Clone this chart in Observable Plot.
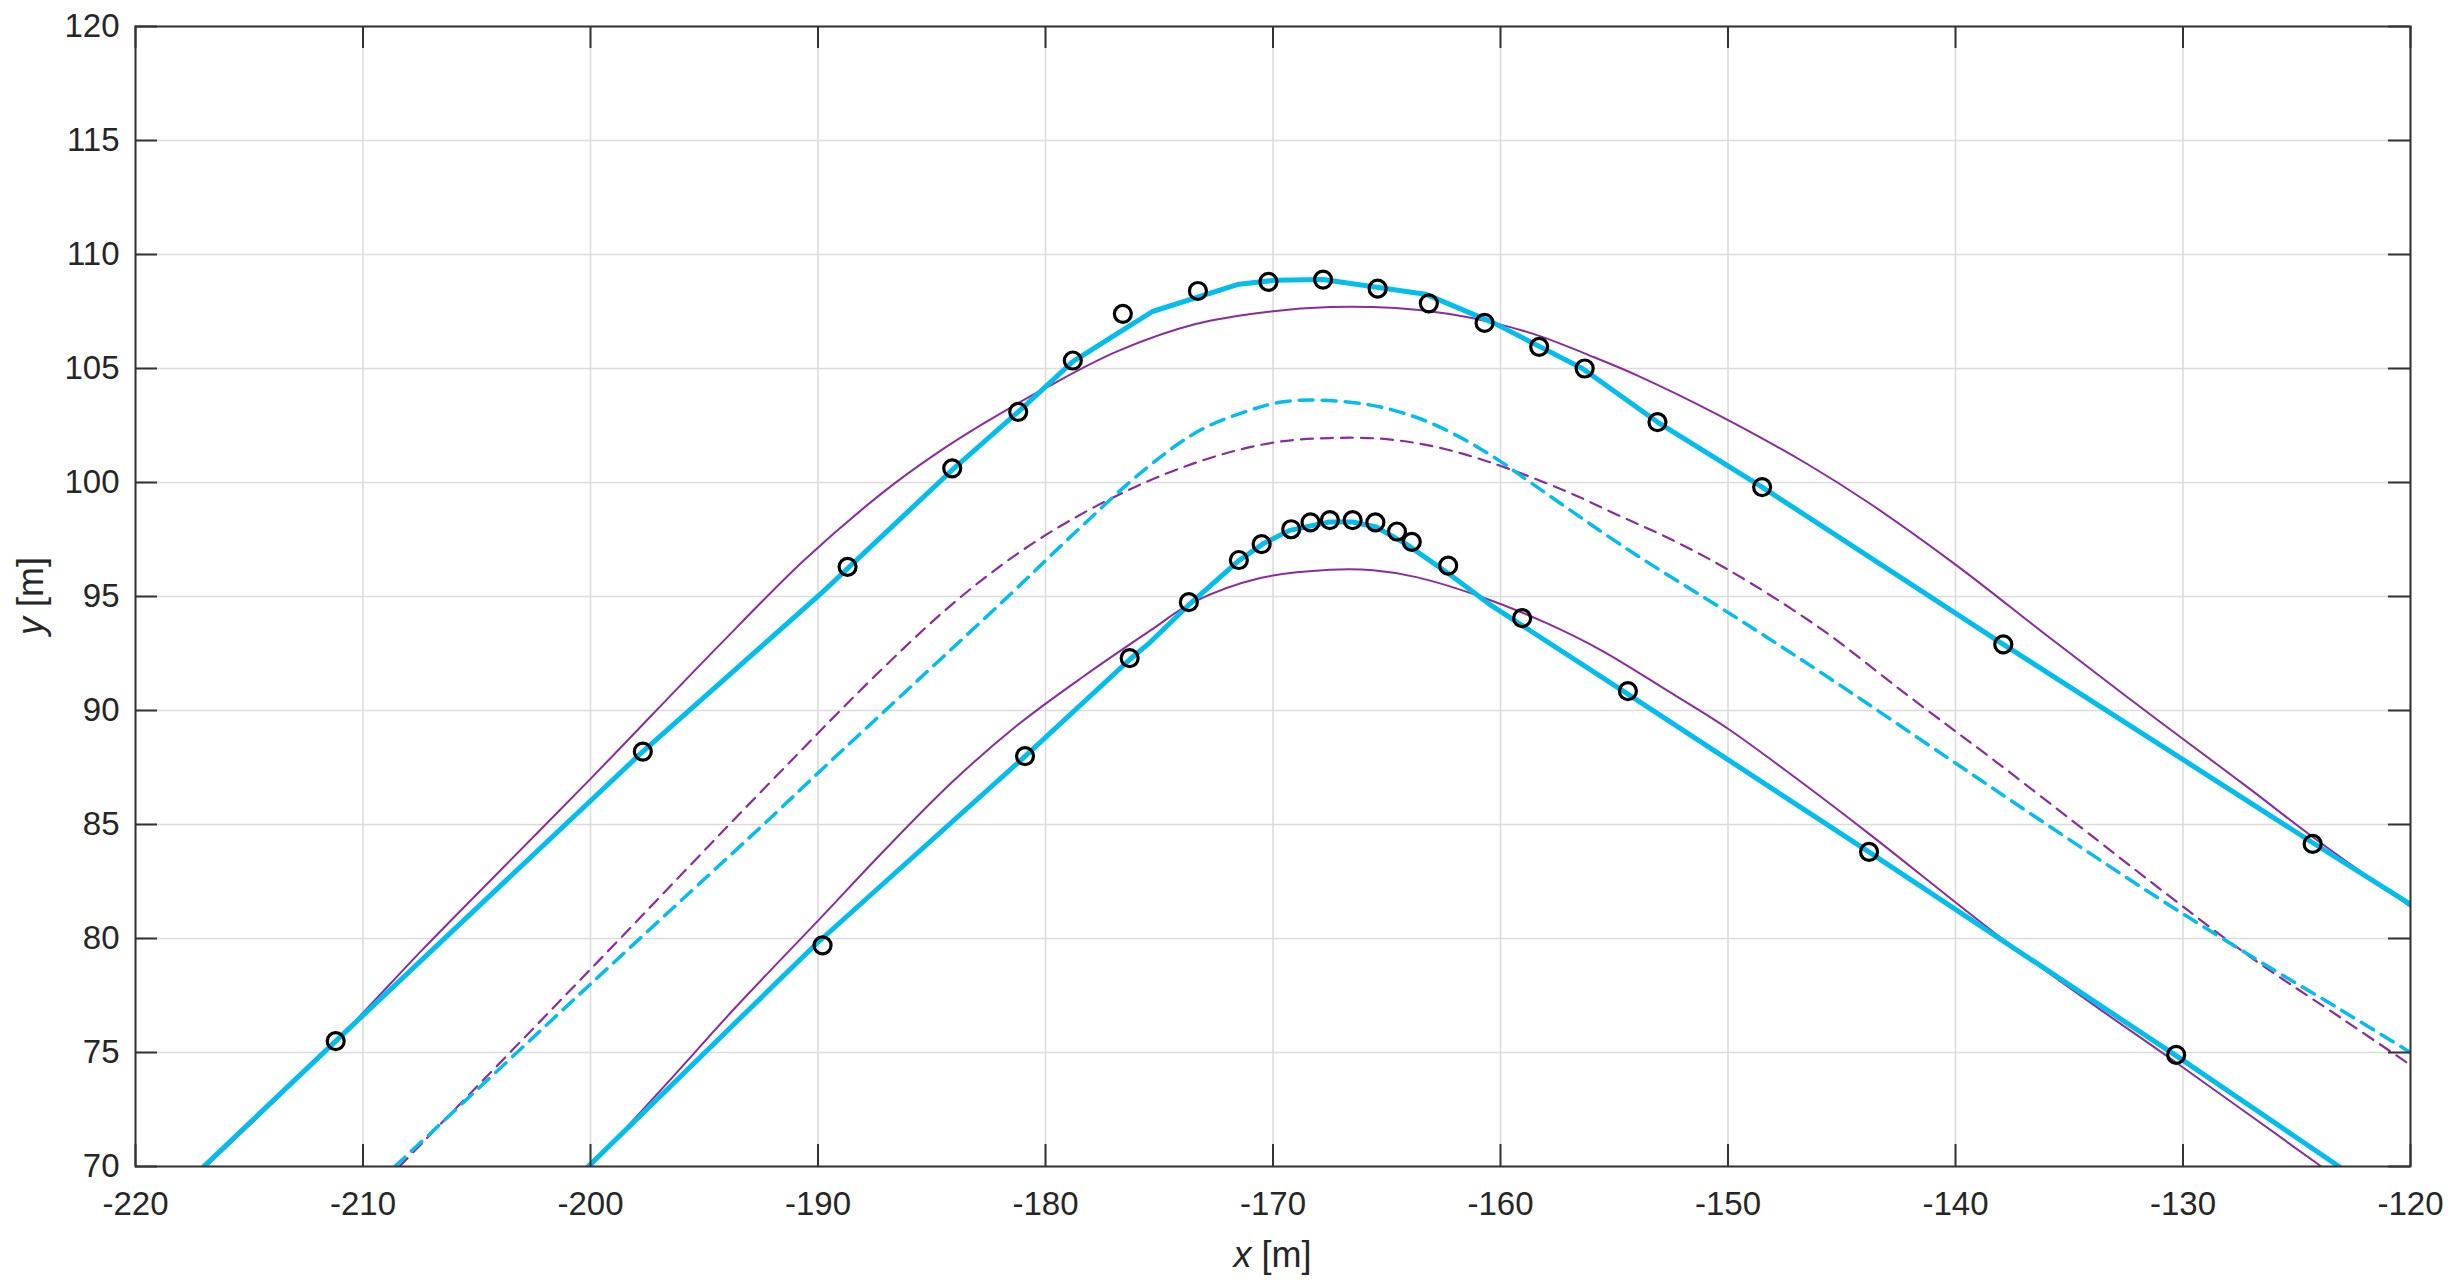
<!DOCTYPE html>
<html>
<head>
<meta charset="utf-8">
<script src="https://cdn.jsdelivr.net/npm/d3@7"></script>
<script src="https://cdn.jsdelivr.net/npm/@observablehq/plot@0.6"></script>
<style>
  html, body { margin: 0; padding: 0; background: #fff; }
  #chart { width: 2460px; height: 1288px; }
</style>
</head>
<body>
<div id="chart"></div>
<script>
// ---- Data ----
const xTicks = [-220, -210, -200, -190, -180, -170, -160, -150, -140, -130, -120];
const yTicks = [70, 75, 80, 85, 90, 95, 100, 105, 110, 115, 120];

// upper boundary, thin purple solid
const upperPurpleX = [-216.9, -211.2, -207.3, -203.9, -200.0, -197.3, -194.4, -190.6, -187.1, -184.9, -182.7, -179.9, -176.85, -173.4, -170.1, -167.5, -164.6, -162.3, -160.3, -158.2, -156.15, -154.0, -150.5, -146.5, -143.8, -140.0, -136.0, -132.6, -130.0, -127.05, -124.3, -120.0];
const upperPurpleY = [70, 75.5, 79.6, 83.05, 87.0, 89.8, 92.8, 96.6, 99.6, 101.2, 102.6, 104.2, 105.75, 106.95, 107.5, 107.7, 107.65, 107.4, 107.0, 106.4, 105.6, 104.7, 103.0, 100.8, 99.1, 96.4, 93.3, 90.7, 88.75, 86.55, 84.45, 81.4];

// upper boundary, thick cyan solid
const upperCyanX = [-217.0, -211.2, -197.7, -189.9, -184.1, -181.2, -178.8, -176.5, -175.3, -171.5, -169.9, -167.8, -163.3, -160.3, -156.4, -153.1, -148.5, -137.9, -124.3, -120.0];
const upperCyanY = [70, 75.5, 88.2, 95.1, 100.55, 103.1, 105.3, 106.75, 107.5, 108.7, 108.87, 108.9, 108.26, 107.0, 105.0, 102.65, 99.8, 92.9, 84.2, 81.5];

// upper measured points
const upperPtsX = [-211.2, -197.7, -188.7, -184.1, -181.2, -178.8, -176.6, -173.3, -170.2, -167.8, -165.4, -163.15, -160.7, -158.3, -156.3, -153.1, -148.5, -137.9, -124.3];
const upperPtsY = [75.5, 88.2, 96.3, 100.62, 103.1, 105.35, 107.4, 108.4, 108.8, 108.9, 108.5, 107.86, 107.0, 105.95, 105.0, 102.65, 99.8, 92.9, 84.15];

// centre line, dashed cyan
const midCyanX = [-208.6, -200.0, -192.18, -189.9, -185.64, -181.54, -178.76, -175.6, -173.21, -171.02, -169.56, -167.96, -165.91, -164.45, -162.99, -161.53, -160.07, -158.61, -154.23, -149.84, -146.04, -140.46, -135.99, -131.52, -127.05, -123.03, -120.0];
const midCyanY = [70, 78.0, 85.2, 87.35, 91.3, 95.1, 97.75, 100.6, 102.29, 103.17, 103.54, 103.61, 103.43, 103.1, 102.58, 101.85, 100.97, 99.95, 96.95, 94.2, 91.75, 88.0, 85.0, 82.05, 79.25, 76.85, 75.0];

// centre line, dashed purple
const midPurpleX = [-208.4, -200.0, -192.2, -187.1, -183.7, -180.3, -176.5, -173.0, -170.0, -167.5, -165.0, -162.8, -160.5, -157.2, -154.9, -152.6, -150.07, -146.04, -142.02, -138.22, -133.75, -130.85, -127.05, -123.03, -120.0];
const midPurpleY = [70, 78.65, 86.75, 91.9, 95.0, 97.5, 99.6, 101.0, 101.75, 101.95, 101.9, 101.55, 100.9, 99.65, 98.6, 97.55, 96.22, 93.67, 90.6, 87.75, 84.3, 82.05, 79.2, 76.5, 74.45];

// lower boundary, thin purple solid
const lowerPurpleX = [-200.0, -196.5, -193.65, -189.84, -187.1, -184.17, -181.24, -178.32, -175.4, -173.5, -170.6, -167.5, -165.6, -163.7, -160.8, -157.9, -155.55, -152.63, -150.0, -146.9, -143.81, -138.22, -134.3, -130.29, -123.92];
const lowerPurpleY = [70, 73.8, 76.95, 80.95, 83.85, 86.8, 89.35, 91.5, 93.5, 94.75, 95.8, 96.17, 96.15, 95.85, 94.97, 93.8, 92.63, 90.85, 89.2, 86.95, 84.6, 80.2, 77.35, 74.55, 70];

// lower boundary, thick cyan solid
const lowerCyanX = [-200.1, -190.07, -180.95, -176.27, -175.4, -173.65, -171.49, -170.44, -169.27, -167.52, -166.5, -165.47, -164.16, -162.26, -160.51, -154.45, -143.81, -130.29, -123.14];
const lowerCyanY = [70, 79.77, 87.94, 92.26, 92.99, 94.68, 96.58, 97.31, 97.9, 98.27, 98.27, 98.05, 97.31, 95.99, 94.68, 90.75, 83.8, 74.85, 70.0];

// lower measured points
const lowerPtsX = [-189.8, -180.9, -176.3, -173.7, -171.5, -170.5, -169.2, -168.35, -167.5, -166.5, -165.5, -164.55, -163.9, -162.3, -159.05, -154.4, -143.8, -130.3];
const lowerPtsY = [79.7, 88.0, 92.3, 94.75, 96.6, 97.3, 97.95, 98.25, 98.35, 98.35, 98.25, 97.85, 97.4, 96.35, 94.05, 90.85, 83.8, 74.9];

// ---- Build tables ----
const pts = (xs, ys) => xs.map((x, i) => ({x, y: ys[i]}));

const CYAN = "#03BDEE";
const PURPLE = "#8A2C9C";
const AXIS = "#333333";
const FONT = "'Liberation Sans', Arial, Helvetica, sans-serif";

const W = 2460, H = 1288;
const mL = 135, mR = 50, mT = 26, mB = 122;
const xDom = [-220, -120], yDom = [70, 120];
const tickPx = 22;
const tlX = tickPx * (xDom[1] - xDom[0]) / (W - mL - mR);
const tlY = tickPx * (yDom[1] - yDom[0]) / (H - mT - mB);

const chart = Plot.plot({
  width: W, height: H,
  marginLeft: mL, marginRight: mR, marginTop: mT, marginBottom: mB,
  style: {fontFamily: FONT, fontSize: "33px", color: "#262626", background: "#fff", overflow: "visible"},
  x: {domain: xDom, label: null},
  y: {domain: yDom, label: null},
  marks: [
    Plot.gridX(xTicks, {stroke: "#dcdcdc", strokeOpacity: 1, strokeWidth: 1.6}),
    Plot.gridY(yTicks, {stroke: "#dcdcdc", strokeOpacity: 1, strokeWidth: 1.6}),
    Plot.line(pts(upperPurpleX, upperPurpleY), {x: "x", y: "y", stroke: PURPLE, strokeWidth: 2, curve: "catmull-rom", clip: true}),
    Plot.line(pts(lowerPurpleX, lowerPurpleY), {x: "x", y: "y", stroke: PURPLE, strokeWidth: 2, curve: "catmull-rom", clip: true}),
    Plot.line(pts(midPurpleX, midPurpleY), {x: "x", y: "y", stroke: PURPLE, strokeWidth: 2.2, strokeDasharray: "12,8", curve: "catmull-rom", clip: true}),
    Plot.line(pts(midCyanX, midCyanY), {x: "x", y: "y", stroke: CYAN, strokeWidth: 3.5, strokeDasharray: "14,9", curve: "catmull-rom", clip: true}),
    Plot.line(pts(upperCyanX, upperCyanY), {x: "x", y: "y", stroke: CYAN, strokeWidth: 5, clip: true}),
    Plot.line(pts(lowerCyanX, lowerCyanY), {x: "x", y: "y", stroke: CYAN, strokeWidth: 5, clip: true}),
    Plot.dot(pts(upperPtsX, upperPtsY), {x: "x", y: "y", r: 8.5, stroke: "#000", strokeWidth: 3.2, fill: "none"}),
    Plot.dot(pts(lowerPtsX, lowerPtsY), {x: "x", y: "y", r: 8.5, stroke: "#000", strokeWidth: 3.2, fill: "none"}),
    Plot.frame({stroke: AXIS, strokeWidth: 2}),
    // inward ticks on all four sides
    Plot.ruleX(xTicks, {x: d => d, y1: yDom[0], y2: yDom[0] + tlY, stroke: AXIS, strokeWidth: 2}),
    Plot.ruleX(xTicks, {x: d => d, y1: yDom[1], y2: yDom[1] - tlY, stroke: AXIS, strokeWidth: 2}),
    Plot.ruleY(yTicks, {y: d => d, x1: xDom[0], x2: xDom[0] + tlX, stroke: AXIS, strokeWidth: 2}),
    Plot.ruleY(yTicks, {y: d => d, x1: xDom[1], x2: xDom[1] - tlX, stroke: AXIS, strokeWidth: 2}),
    Plot.axisX(xTicks, {tickSize: 0, tickPadding: 25, fontSize: 33, tickFormat: d => String(d), label: null, fill: "#262626"}),
    Plot.axisY(yTicks, {tickSize: 0, tickPadding: 16, fontSize: 33, tickFormat: d => String(d), label: null, fill: "#262626"})
  ]
});

document.getElementById("chart").appendChild(chart);

// axis titles with italic variable names
const svg = d3.select(chart);
const xl = svg.append("text")
  .attr("x", mL + (W - mL - mR) / 2)
  .attr("y", 1267)
  .attr("text-anchor", "middle")
  .attr("font-size", 36)
  .attr("fill", "#262626")
  .attr("font-family", FONT);
xl.append("tspan").attr("font-style", "italic").text("x");
xl.append("tspan").text(" [m]");

const yl = svg.append("text")
  .attr("transform", `translate(43, ${mT + (H - mT - mB) / 2}) rotate(-90)`)
  .attr("text-anchor", "middle")
  .attr("font-size", 36)
  .attr("fill", "#262626")
  .attr("font-family", FONT);
yl.append("tspan").attr("font-style", "italic").text("y");
yl.append("tspan").text(" [m]");
</script>
</body>
</html>
